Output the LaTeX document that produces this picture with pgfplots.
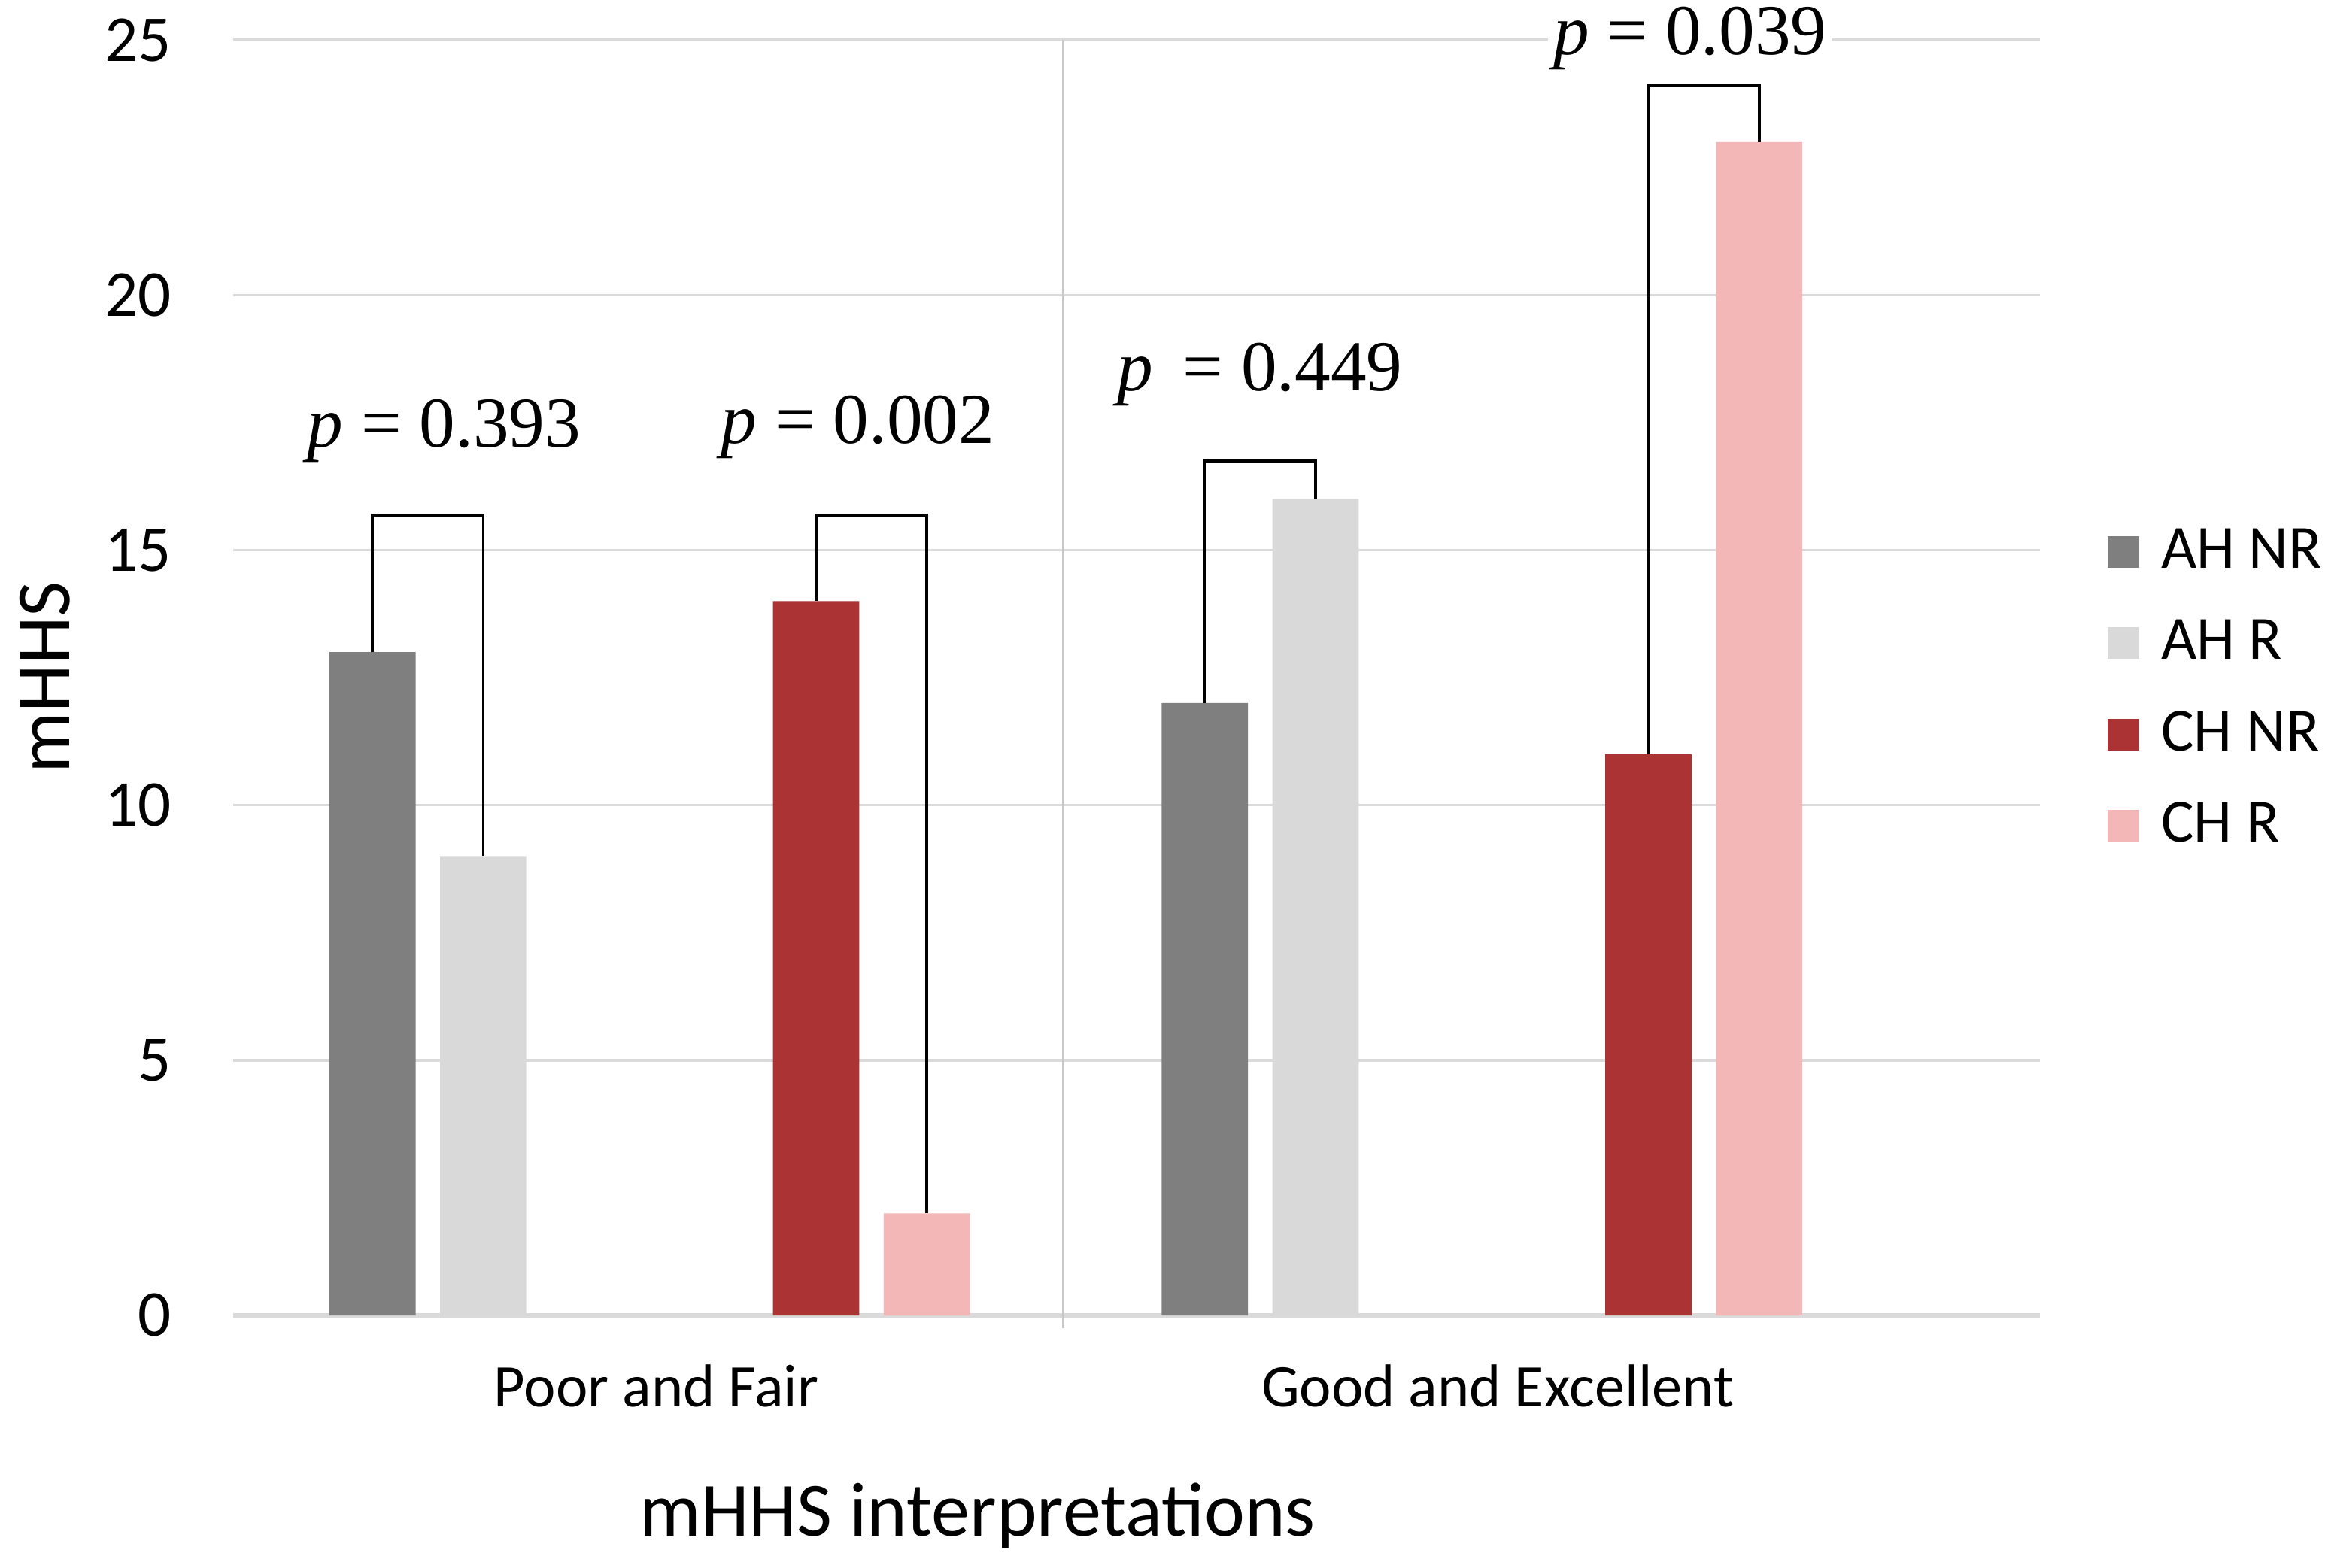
\documentclass[border=0pt]{standalone}
\usepackage{fontspec}
\setmainfont{Carlito}
\newfontfamily\pfont{Liberation Serif}
\usepackage{pgfplots}
\pgfplotsset{compat=1.18}

\definecolor{ahnr}{HTML}{7F7F7F}
\definecolor{ahr}{HTML}{D9D9D9}
\definecolor{chnr}{HTML}{AB3333}
\definecolor{chr}{HTML}{F4B7B7}
\definecolor{gridgray}{HTML}{DADADA}

\pgfplotsset{
  sq legend/.style={legend image code/.code={\fill[##1] (0pt,-3.1pt) rectangle (6.2pt,3.1pt);}},
}

\begin{document}
\begin{tikzpicture}
\begin{axis}[
  scale only axis,
  width=352.7pt, height=249.1pt,
  xmin=-0.5, xmax=1.67,
  ymin=0, ymax=25,
  ytick={0,5,...,25},
  xtick={0.008,1.019},
  xticklabels={Poor and Fair, Good and Excellent},
  axis line style={draw=none},
  tick style={draw=none},
  ymajorgrids,
  grid style={color=gridgray, line width=0.5pt},
  /pgf/number format/assume math mode=true,
  yticklabel style={font=\fontsize{12.8}{15}\selectfont, xshift=-8.6pt},
  xticklabel style={font=\fontsize{11.8}{14}\selectfont, anchor=center, yshift=-13.8pt},
  ylabel={mHHS},
  ylabel style={font=\fontsize{15}{18}\selectfont, at={(axis description cs:-0.1046,0.5)}, anchor=center},
  xlabel={mHHS interpretations},
  xlabel style={font=\fontsize{15}{18}\selectfont, at={(axis description cs:0.412,-0.157)}, anchor=center},
  legend cell align=left,
  legend style={draw=none, fill=none, inner sep=0pt, row sep=6.6pt, column sep=3.3pt,
    font=\fontsize{12}{14}\selectfont,
    nodes={inner sep=1pt},
    at={(axis description cs:1.037,0.6217)}, anchor=north west},
  clip=false,
]

% baseline
\draw[gridgray, line width=1pt] (axis cs:-0.5,0) -- (axis cs:1.67,0);
% separator between categories
\draw[color=black!22, line width=0.4pt] (axis cs:0.497,-0.25) -- (axis cs:0.497,25);

\addplot[ybar, bar width=0.1036, bar shift=-0.333, fill=ahnr, draw=none, sq legend]
  coordinates {(0,13) (1,12)};
\addlegendentry{AH NR}
\addplot[ybar, bar width=0.1036, bar shift=-0.2, fill=ahr, draw=none, sq legend]
  coordinates {(0,9) (1,16)};
\addlegendentry{AH R}
\addplot[ybar, bar width=0.1036, bar shift=0.2, fill=chnr, draw=none, sq legend]
  coordinates {(0,14) (1,11)};
\addlegendentry{CH NR}
\addplot[ybar, bar width=0.1036, bar shift=0.333, fill=chr, draw=none, sq legend]
  coordinates {(0,2) (1,23)};
\addlegendentry{CH R}

% significance brackets
\draw[black, line width=0.55pt] (axis cs:-0.333,13) |- (axis cs:-0.2,15.68) -- (axis cs:-0.2,9);
\draw[black, line width=0.55pt] (axis cs:0.2,14) |- (axis cs:0.333,15.68) -- (axis cs:0.333,2);
\draw[black, line width=0.55pt] (axis cs:0.667,12) |- (axis cs:0.8,16.75) -- (axis cs:0.8,16);
\draw[black, line width=0.55pt] (axis cs:1.2,11) |- (axis cs:1.333,24.1) -- (axis cs:1.333,23);

\node[anchor=base, font=\fontsize{14}{16}\pfont] at (axis cs:-0.247,17.02) {\textit{p} = 0.393};
\node[anchor=base, font=\fontsize{14}{16}\pfont] at (axis cs:0.25,17.1) {\textit{p} = 0.002};
\node[anchor=base, font=\fontsize{14}{16}\pfont] at (axis cs:0.733,18.12) {\textit{p}\, = 0.449};
\node[anchor=base, fill=white, inner sep=1pt, font=\fontsize{14}{16}\pfont] at (axis cs:1.25,24.71) {\textit{p} = 0.039};
\end{axis}
\pgfresetboundingbox
\path[use as bounding box] (-45.6pt,-49.3pt) rectangle (409.6pt,256.9pt);
\end{tikzpicture}
\end{document}
